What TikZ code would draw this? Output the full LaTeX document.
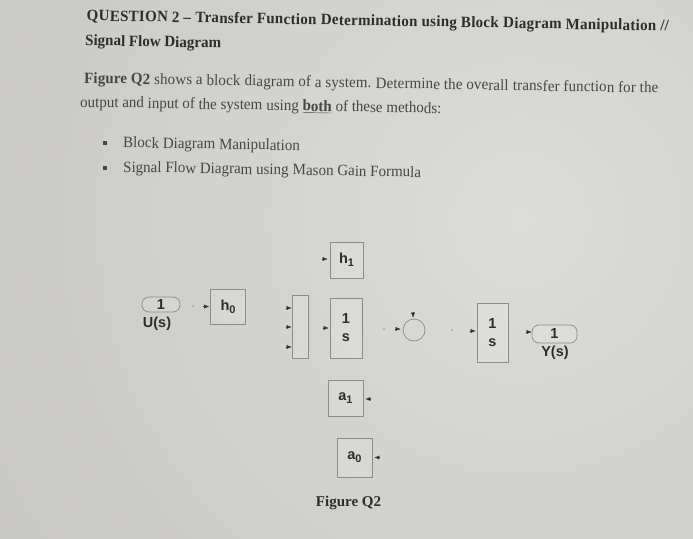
\documentclass[tikz,border=0pt]{standalone}
\usepackage{graphicx}
\usepackage{fontspec}
\setmainfont{Liberation Serif}
\newfontfamily\diagfont{Liberation Sans}
\usetikzlibrary{arrows.meta}
\definecolor{bgin}{RGB}{220,220,216}
\definecolor{bgout}{RGB}{165,163,158}
\definecolor{titlecol}{RGB}{45,45,45}
\definecolor{paracol}{RGB}{70,70,70}
\definecolor{blockcol}{RGB}{140,140,140}
\definecolor{dtext}{RGB}{45,45,45}
\definecolor{tipcol}{RGB}{50,50,50}
\newcommand\dsub[1]{\raisebox{-0.4ex}{\fontsize{11}{11}\selectfont #1}}
\newcommand\tallt[1]{\scalebox{1}[1.05]{#1}}
\tikzset{
  txtline/.style={anchor=base west, inner sep=0pt, rotate=-1},
  titletxt/.style={txtline, text=titlecol, font=\fontsize{15}{18}\selectfont\bfseries\addfontfeature{LetterSpace=1.9}},
  paratxt/.style={txtline, text=paracol, font=\fontsize{15}{17}\selectfont},
  paratxtsp/.style={txtline, text=paracol, font=\fontsize{15}{17}\selectfont\addfontfeature{LetterSpace=0.8}},
  blockbox/.style={draw=blockcol, line width=0.7pt, fill=white, fill opacity=0.12, text opacity=1,
     text=dtext, font=\diagfont\bfseries\fontsize{14.5}{16}\selectfont, inner sep=0pt, align=center},
  portbox/.style={blockbox, rounded corners=7pt},
  sumcirc/.style={draw=blockcol, line width=0.7pt, circle, minimum size=22pt, inner sep=0pt},
  lbl/.style={text=dtext, font=\diagfont\bfseries\fontsize{14.5}{16}\selectfont, inner sep=0pt},
  tipline/.style={draw=tipcol, line width=0.4pt, -{Latex[length=5pt,width=4pt]}},
  dotmark/.style={circle, fill=gray!70, inner sep=0pt, minimum size=2.2pt},
  bulletmark/.style={fill=paracol, inner sep=0pt, minimum size=3.6pt}
}
\begin{document}
\begin{tikzpicture}[x=1pt,y=-1pt]
\useasboundingbox (0,0) rectangle (693,538);
\begin{scope}
  \clip (0,0) rectangle (693,538);
  \shade[inner color=bgin, outer color=bgout] (520,220) circle (1700pt);
\end{scope}

% title
\node[titletxt] (ta) at (86.5,20.7) {\tallt{QUESTION 2 --}};
\node[titletxt] (tb) at (ta.base east) {\tallt{~Transfer Function}};
\node[titletxt] (tc) at (tb.base east) {\tallt{~Determination using Block}};
\node[titletxt] (td) at (tc.base east) {\tallt{~Diagram Manipulation //}};
\node[txtline, text=titlecol, font=\fontsize{15}{18}\selectfont\bfseries] (title2) at (85,45.5)
  {\tallt{Signal Flow Diagram}};

% paragraph
\node[paratxtsp] (p1a) at (84,83) {\tallt{\textbf{Figure Q2} shows a block}};
\node[paratxtsp] (p1b) at (p1a.base east) {\tallt{~diagram of a system.}};
\node[paratxtsp] (p1c) at (p1b.base east) {\tallt{~Determine the overall}};
\node[paratxtsp] (p1d) at (p1c.base east) {\tallt{~transfer function for the}};
\node[paratxt] (p2a) at (80,107) {\tallt{output and input of the system}};
\node[paratxt] (p2b) at (p2a.base east) {\tallt{~using \underline{\textbf{both}} of these methods:}};

% bullets
\node[bulletmark] (b1) at (105,143) {};
\node[paratxt] (t1) at (123,147.5) {\tallt{Block Diagram Manipulation}};
\node[bulletmark] (b2) at (105,168) {};
\node[paratxt] (t2a) at (123,172) {\tallt{Signal Flow Diagram using}};
\node[paratxt] (t2b) at (t2a.base east) {\tallt{~Mason Gain Formula}};

\node[anchor=base, inner sep=0pt, text=titlecol, font=\fontsize{15}{18}\selectfont\bfseries] (fig) at (348.5,506.5)
  {Figure Q2};

% blocks
\node[portbox, minimum width=38pt, minimum height=15pt] (in) at (161,304.5) {1};
\node[lbl] (ulab) at (157,323.5) {U(s)};
\node[dotmark] (d0) at (193,306) {};
\node[blockbox, minimum width=35pt, minimum height=35pt] (h0) at (228,306.5) {h\dsub{0}};
\node[blockbox, minimum width=16pt, minimum height=63pt] (mux) at (300,326.5) {};
\node[blockbox, minimum width=33pt, minimum height=36pt] (h1) at (346.5,260) {h\dsub{1}};
\node[blockbox, minimum width=32pt, minimum height=60pt] (int1) at (346,328) {1\\[2pt]s};
\node[dotmark] (d1) at (384,329) {};
\node[sumcirc] (sum) at (414,330) {};
\node[dotmark] (d2) at (452,330) {};
\node[blockbox, minimum width=31pt, minimum height=59pt] (int2) at (492.5,332.5) {1\\[2pt]s};
\node[portbox, minimum width=45pt, minimum height=18pt] (out) at (554.5,334) {1};
\node[lbl] (ylab) at (555,353) {Y(s)};
\node[blockbox, minimum width=35pt, minimum height=36pt] (a1) at (345.5,398) {a\dsub{1}};
\node[blockbox, minimum width=35pt, minimum height=39pt] (a0) at (354.5,457.5) {a\dsub{0}};

% arrowheads
\draw[tipline] ([xshift=-7pt]h0.west) -- ([xshift=-1pt]h0.west);
\draw[tipline] ([xshift=-6pt,yshift=18.5pt]mux.west) -- ([xshift=0pt,yshift=18.5pt]mux.west);
\draw[tipline] ([xshift=-6pt,yshift=-0.5pt]mux.west) -- ([xshift=0pt,yshift=-0.5pt]mux.west);
\draw[tipline] ([xshift=-6pt,yshift=-20.5pt]mux.west) -- ([xshift=0pt,yshift=-20.5pt]mux.west);
\draw[tipline] ([xshift=-8pt,yshift=1pt]h1.west) -- ([xshift=-2pt,yshift=1pt]h1.west);
\draw[tipline] ([xshift=-7pt]int1.west) -- ([xshift=-1pt]int1.west);
\draw[tipline] ([xshift=-8pt,yshift=1pt]sum.west) -- ([xshift=-2pt,yshift=1pt]sum.west);
\draw[tipline] ([xshift=-1pt,yshift=7pt]sum.north) -- ([xshift=-1pt,yshift=1pt]sum.north);
\draw[tipline] ([xshift=-7pt,yshift=1.5pt]int2.west) -- ([xshift=-1pt,yshift=1.5pt]int2.west);
\draw[tipline] ([xshift=-6pt,yshift=2pt]out.west) -- ([xshift=0pt,yshift=2pt]out.west);
\draw[tipline] ([xshift=8pt,yshift=-1pt]a1.east) -- ([xshift=2pt,yshift=-1pt]a1.east);
\draw[tipline] ([xshift=8pt]a0.east) -- ([xshift=2pt]a0.east);
\end{tikzpicture}
\end{document}
